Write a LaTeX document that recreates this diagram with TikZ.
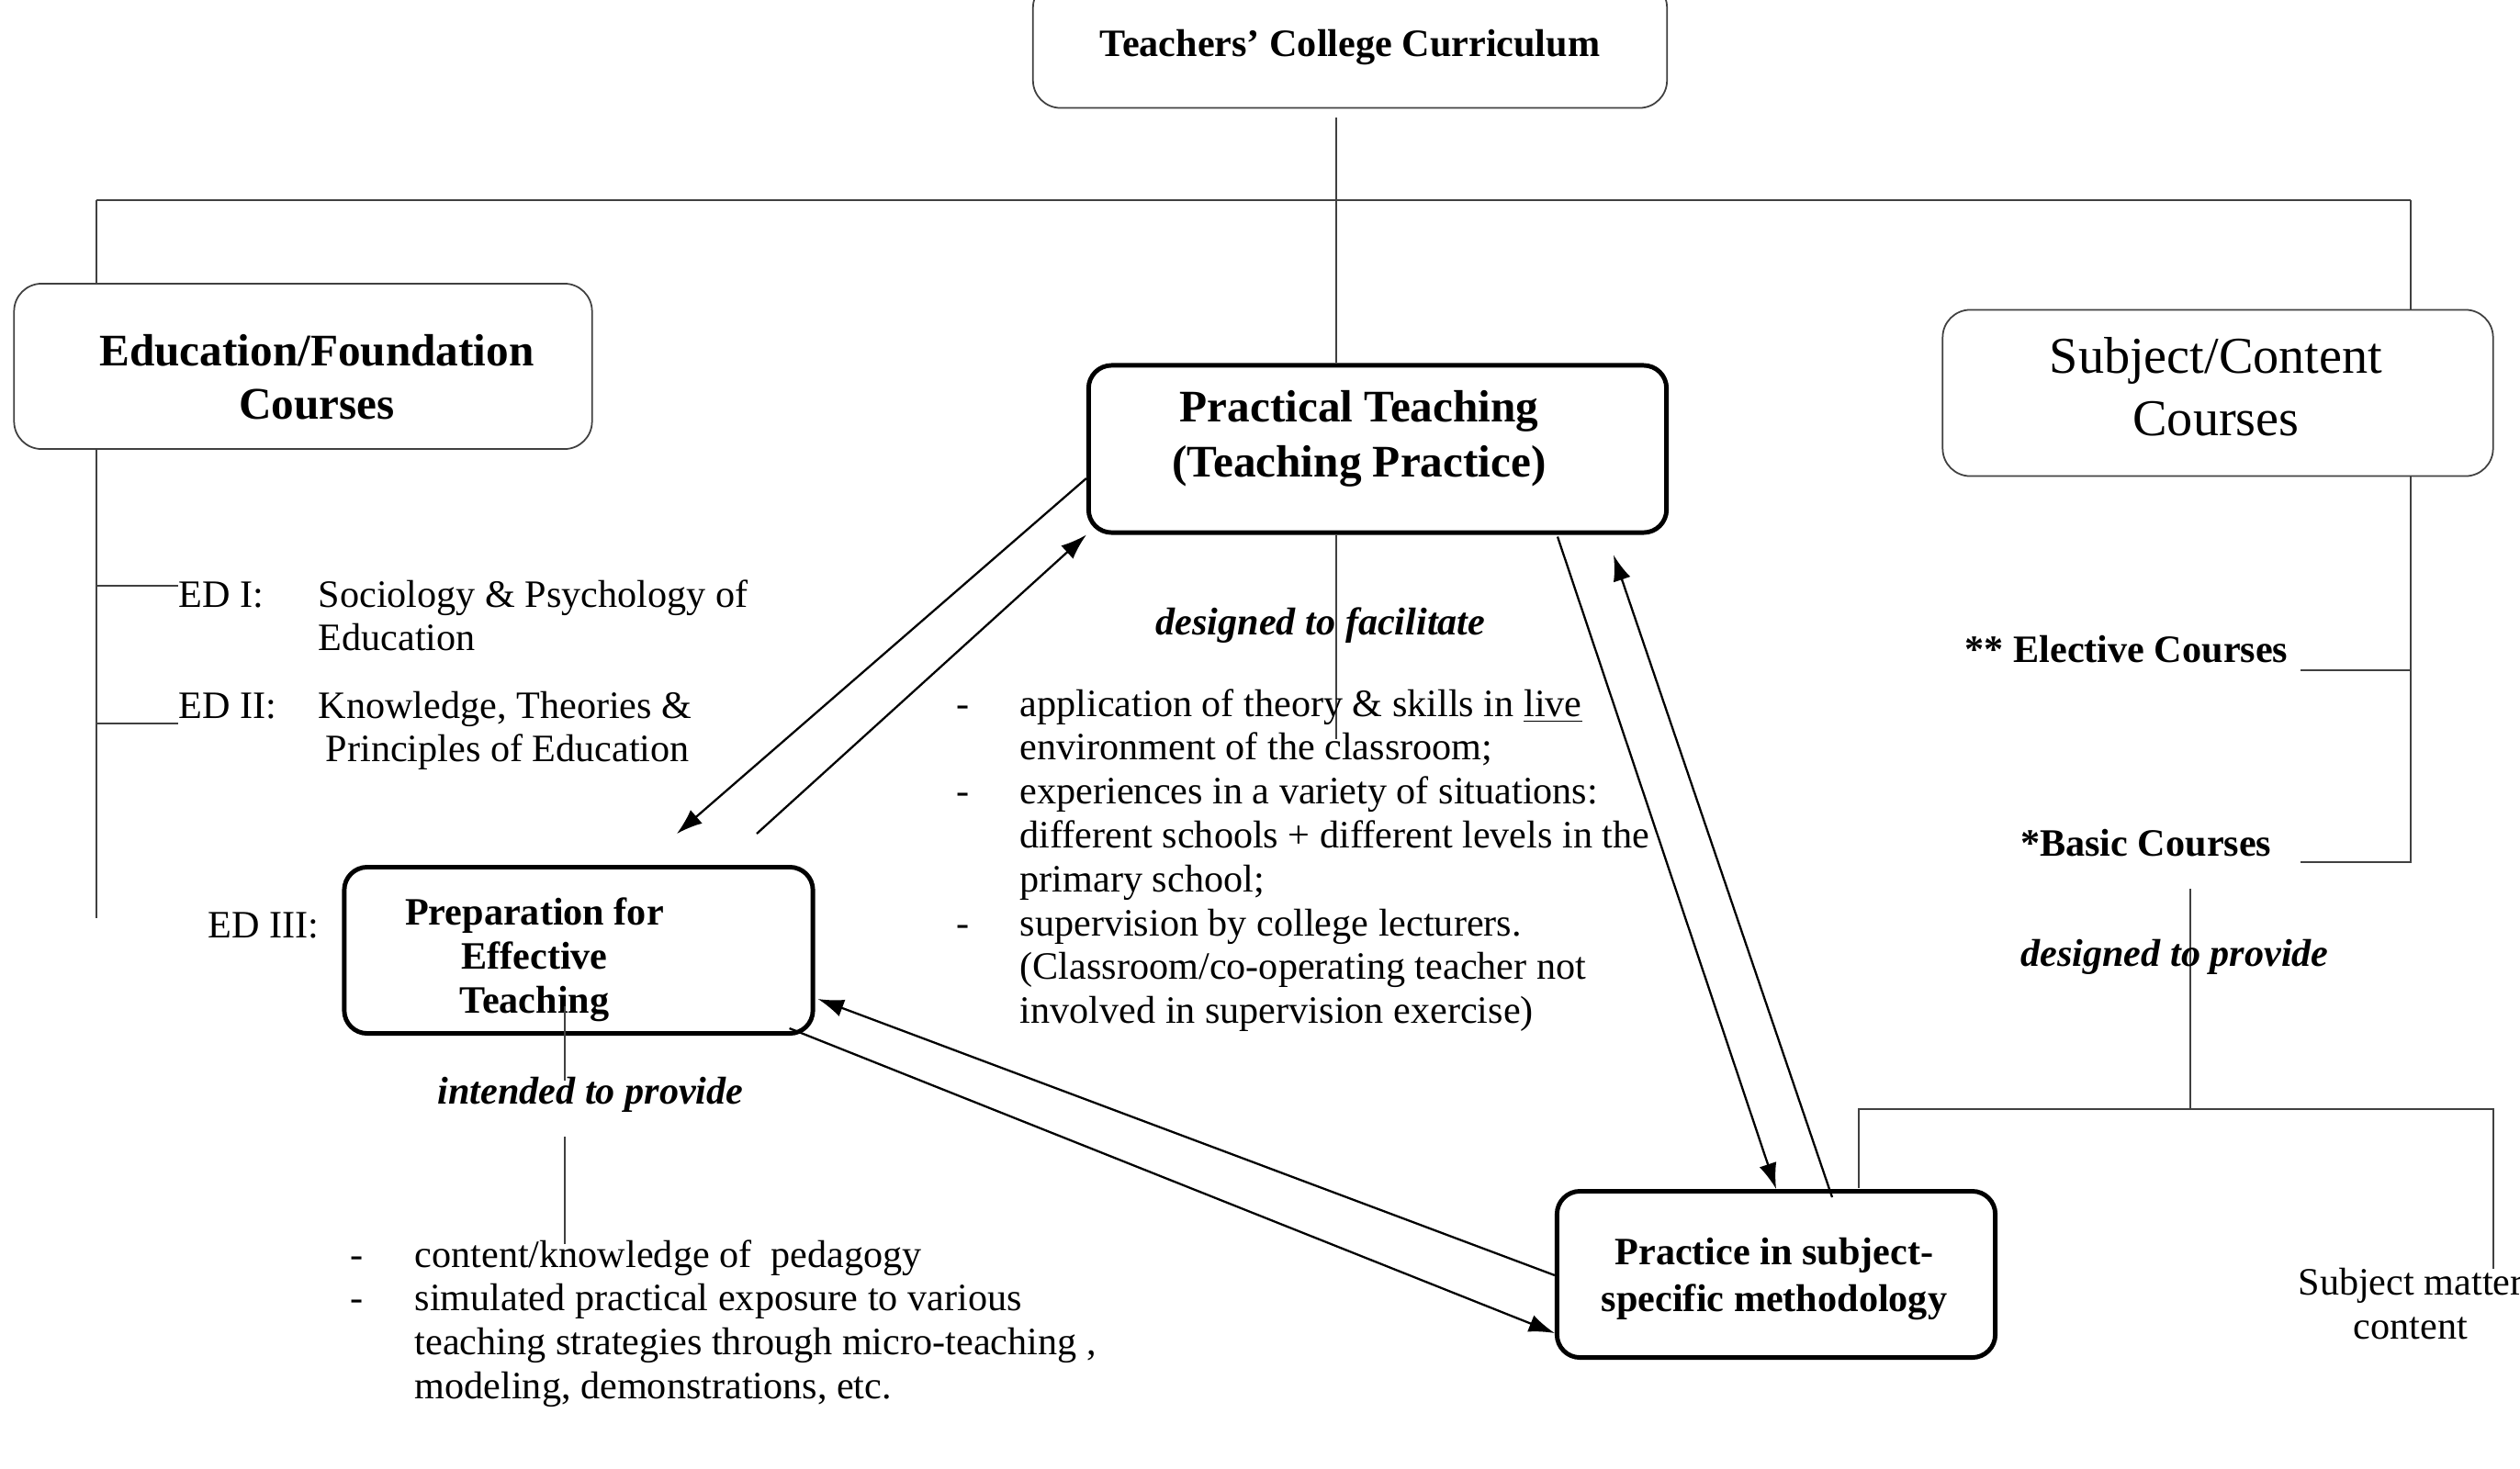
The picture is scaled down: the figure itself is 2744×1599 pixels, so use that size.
\documentclass[tikz,border=0pt]{standalone}
\usepackage{fontspec}
\setmainfont{Liberation Serif}
\usetikzlibrary{calc,arrows.meta}

\begin{document}
\begin{tikzpicture}[x=0.01cm,y=-0.01cm,
	thinbox/.style={draw=black!75,line width=0.5pt,rounded corners=0.3cm,inner sep=0pt},
	thickbox/.style={draw,line width=1.4pt,rounded corners=0.25cm,inner sep=0pt},
	branch/.style={draw=black!75,line width=0.5pt},
	link/.style={-{Latex[length=8pt,width=5.5pt]},line width=0.65pt},
	txt/.style={font=\fontsize{12}{13.6}\selectfont,inner sep=0pt},
	boldtxt/.style={font=\bfseries\fontsize{12}{13.6}\selectfont,inner sep=0pt},
	ittxt/.style={font=\bfseries\itshape\fontsize{12}{13.6}\selectfont,inner sep=0pt},
	bighead/.style={font=\bfseries\fontsize{14}{16.6}\selectfont,align=center,inner sep=0pt}]
	\useasboundingbox (0,0) rectangle (2744,1599);
	%boites
	\node[thinbox,minimum width=6.9cm,minimum height=1.39cm] (tcc) at (1470,48) {};
	\node[boldtxt] (tcctxt) at (1470,52) {Teachers’ College Curriculum};
	\node[thinbox,minimum width=6.29cm,minimum height=1.8cm] (edu) at (330,399) {};
	\node[bighead,font=\bfseries\fontsize{14}{16.4}\selectfont] (edutxt) at ($(edu)+(15,12)$) {Education/Foundation\\Courses};
	\node[thickbox,minimum width=6.29cm,minimum height=1.82cm] (pt) at (1500,489) {};
	\node[bighead,font=\bfseries\fontsize{14}{16.9}\selectfont] (pttxt) at ($(pt)+(-20,-11)$) {Practical Teaching\\(Teaching Practice)};
	\node[thinbox,minimum width=5.99cm,minimum height=1.81cm] (subj) at (2415,428) {};
	\node[align=center,inner sep=0pt,font=\fontsize{16}{19.2}\selectfont] (subjtxt) at ($(subj)+(-2,-7)$) {Subject/Content\\Courses};
	\node[thickbox,minimum width=5.1cm,minimum height=1.81cm] (prep) at (630,1035) {};
	\node[boldtxt,align=center] (preptxt) at ($(prep)+(-48,10)$) {Preparation for\\Effective\\Teaching};
	\node[thickbox,minimum width=4.77cm,minimum height=1.81cm] (prac) at (1934,1388) {};
	\node[boldtxt,align=center,font=\bfseries\fontsize{12}{14.5}\selectfont] (practxt) at ($(prac)+(-2,5)$) {Practice in subject-\\specific methodology};
	%arbre du haut
	\coordinate (hl) at (105,218);
	\coordinate (hr) at (2625,218);
	\coordinate (mid) at (1455,128);
	\coordinate (facend) at (1455,805);
	\draw[branch] (hl) -- (hr);
	\draw[branch] (hl) -- (hl |- edu.north);
	\draw[branch] (hr) -- (hr |- subj.north);
	\draw[branch] (mid) -- (mid |- pt.north)
		(mid |- pt.south) -- (facend);
	%ED I, ED II
	\coordinate (edend) at (105,1000);
	\coordinate (ed1) at (194,638);
	\coordinate (ed2) at (194,788);
	\draw[branch] (edu.south -| edend) -- (edend)
		(ed1 -| edend) -- (ed1)
		(ed2 -| edend) -- (ed2);
	\node[txt,anchor=base west] (edI) at (194,661) {\begin{tabular}[t]{@{}p{1.52cm}@{}l@{}}ED I: & Sociology \& Psychology of\\ & Education\end{tabular}};
	\node[txt,anchor=base west] (edII) at (194,782) {\begin{tabular}[t]{@{}p{1.52cm}@{}l@{}}ED II: & Knowledge, Theories \&\\ & \hspace{0.08cm}Principles of Education\end{tabular}};
	\node[txt,anchor=base west] (edIII) at (226,1021) {ED III:};
	%cours de matiere
	\coordinate (elect) at (2505,730);
	\coordinate (basic) at (2505,939);
	\draw[branch] (subj.south -| hr) |- (basic)
		(elect) -- (elect -| hr);
	\node[boldtxt,anchor=base east] (electtxt) at (2492,721) {** Elective Courses};
	\node[boldtxt,anchor=base east] (basictxt) at (2474,932) {*Basic Courses};
	\coordinate (prtop) at (2385,968);
	\coordinate (prmid) at (2385,1208);
	\coordinate (prl) at (2024,1294);
	\coordinate (prr) at (2715,1382);
	\draw[branch] (prtop) -- (prmid)
		(prl) |- (prmid) -| (prr);
	\node[ittxt,anchor=base] (provtxt) at (2368,1052) {designed to provide};
	\node[txt,align=center,anchor=base] (smc) at (2625,1458) {Subject matter\\content};
	%facilitate
	\node[ittxt,anchor=base] (factxt) at (1438,691) {designed to facilitate};
	\node[txt,anchor=base west] (faclist) at (1041,780) {\begin{tabular}[t]{@{}p{0.69cm}@{}l@{}}
		- & application of theory \& skills in \underline{live}\\
		  & environment of the classroom;\\
		- & experiences in a variety of situations:\\
		  & different schools + different levels in the\\
		  & primary school;\\
		- & supervision by college lecturers.\\
		  & (Classroom/co-operating teacher not\\
		  & involved in supervision exercise)\end{tabular}};
	%intended to provide
	\coordinate (ip1) at (615,1096);
	\coordinate (ip2) at (615,1177);
	\coordinate (ip3) at (615,1238);
	\coordinate (ip4) at (615,1355);
	\draw[branch] (ip1) -- (ip2) (ip3) -- (ip4);
	\node[ittxt,anchor=base] (inttxt) at (643,1202) {intended to provide};
	\node[txt,anchor=base west] (intlist) at (381,1380) {\begin{tabular}[t]{@{}p{0.70cm}@{}l@{}}
		- & content/knowledge of \ pedagogy\\
		- & simulated practical exposure to various\\
		  & teaching strategies through micro-teaching ,\\
		  & modeling, demonstrations, etc.\end{tabular}};
	%fleches
	\coordinate (a1) at (737,908);
	\coordinate (a2) at (824,908);
	\draw[link] ($(pt.west)+(0,32)$) -- (a1);
	\draw[link] (a2) -- (pt.south west);
	\draw[link] ($(pt.south)+(196,2)$) -- (prac.north);
	\draw[link] ($(prac.north)+(61,9)$) -- ($(pt.south)+(257,22)$);
	\draw[link] ($(prac.west)+(0,1)$) -- ($(prep.east)+(3,53)$);
	\draw[link] ($(prep.south east)+(-28,-8)$) -- ($(prac.west)+(0,64)$);
\end{tikzpicture}
\end{document}
